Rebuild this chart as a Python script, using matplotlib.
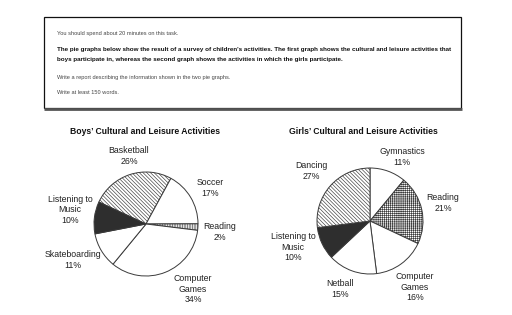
import matplotlib
matplotlib.use("Agg")
import matplotlib.pyplot as plt
from matplotlib.patches import Rectangle

plt.rcParams['font.family'] = ['Liberation Sans', 'DejaVu Sans']
plt.rcParams['hatch.linewidth'] = 0.45
plt.rcParams['hatch.color'] = '#4a4a4a'

# ---- data ----
boys_labels = ["Basketball", "Soccer", "Reading", "Computer\nGames", "Skateboarding", "Listening to\nMusic"]
boys_values = [26, 17, 2, 34, 11, 10]
girls_labels = ["Gymnastics", "Reading", "Computer\nGames", "Netball", "Listening to\nMusic", "Dancing"]
girls_values = [11, 21, 16, 15, 10, 27]

boys_title = "Boys\u2019 Cultural and Leisure Activities"
girls_title = "Girls\u2019 Cultural and Leisure Activities"

task_lines = [
    ("You should spend about 20 minutes on this task.", 'normal', 33),
    ("The pie graphs below show the result of a survey of children's activities. The first graph shows the cultural and leisure activities that", 'bold', 50),
    ("boys participate in, whereas the second graph shows the activities in which the girls participate.", 'bold', 60),
    ("Write a report describing the information shown in the two pie graphs.", 'normal', 77),
    ("Write at least 150 words.", 'normal', 93),
]

# styles
boys_fill = ['white', 'white', 'white', 'white', 'white', '#2e2e2e']
boys_hatch = ['\\' * 9, None, '|' * 10, None, None, None]
girls_fill = ['white', 'white', 'white', 'white', '#2e2e2e', 'white']
girls_hatch = [None, '+' * 8, None, None, None, '\\' * 9]

# label positions (pixel coords, top-down)
boys_label_pos = [(129, 156), (210, 188), (220, 232), (193, 289), (73, 260), (70, 210)]
girls_label_pos = [(402, 157), (443, 203), (415, 287), (340, 289), (293, 247), (311, 171)]

W, H = 512, 315
fig = plt.figure(figsize=(W / 100, H / 100), dpi=100)
ax = fig.add_axes([0, 0, 1, 1])


def Y(y):
    return H - y


def draw_pie(values, labels, fills, hatches, center, radius, startangle, label_pos, title, title_pos):
    wedges, _ = ax.pie(values, center=(center[0], Y(center[1])), radius=radius,
                       startangle=startangle, counterclock=False, colors=fills,
                       wedgeprops=dict(edgecolor='#3a3a3a', linewidth=0.7))
    for w, h in zip(wedges, hatches):
        if h:
            w.set_hatch(h)
    for lab, v, (x, y) in zip(labels, values, label_pos):
        ax.text(x, Y(y), f"{lab}\n{v}%", ha='center', va='center', fontsize=6.3,
                color='#222222', linespacing=1.15)
    ax.text(title_pos[0], Y(title_pos[1]), title, ha='center', va='center',
            fontsize=6.2, fontweight='bold', color='#111111')


draw_pie(boys_values, boys_labels, boys_fill, boys_hatch, (146, 224), 52, 155,
         boys_label_pos, boys_title, (145, 131))
draw_pie(girls_values, girls_labels, girls_fill, girls_hatch, (370, 221), 53, 90,
         girls_label_pos, girls_title, (363, 131))

# task box
ax.add_patch(Rectangle((44, Y(108)), 417, 91, facecolor='white', edgecolor='#111111',
                       linewidth=0.9, zorder=0))
ax.plot([44, 461.5], [Y(108.6), Y(108.6)], color='#555555', linewidth=2.0, solid_capstyle='butt')
for txt, wt, y in task_lines:
    ax.text(57, Y(y), txt, ha='left', va='center',
            fontsize=4.5 if wt == 'bold' else 4.1, fontweight=wt,
            color='#111111' if wt == 'bold' else '#444444')

ax.set_xlim(0, W)
ax.set_ylim(0, H)
ax.set_aspect('auto')
ax.axis('off')
fig.savefig("out.png", dpi=100, facecolor='white')
